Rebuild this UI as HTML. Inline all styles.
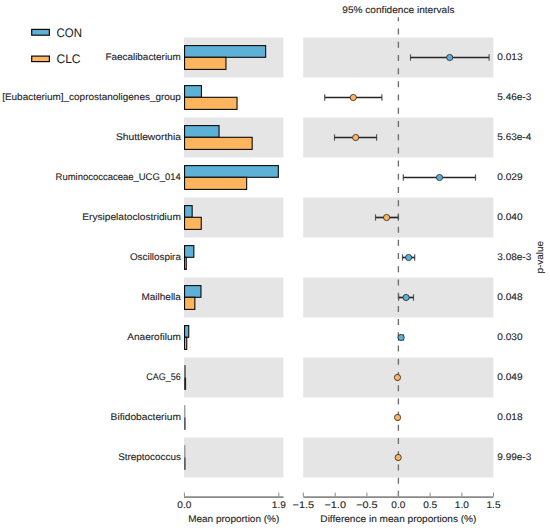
<!DOCTYPE html><html><head><meta charset="utf-8"><style>html,body{margin:0;padding:0;background:#fff;}svg{display:block;}text{font-family:"Liberation Sans",sans-serif;fill:#262626;stroke:#262626;stroke-width:0.12px;text-rendering:geometricPrecision;}</style></head><body>
<svg width="550" height="530" viewBox="0 0 550 530">
<rect x="0" y="0" width="550" height="530" fill="#fff"/>
<rect x="184.0" y="37.5" width="99.50" height="40.0" fill="#e5e5e5"/>
<rect x="303.2" y="37.5" width="190.20" height="40.0" fill="#e5e5e5"/>
<rect x="184.0" y="117.5" width="99.50" height="40.0" fill="#e5e5e5"/>
<rect x="303.2" y="117.5" width="190.20" height="40.0" fill="#e5e5e5"/>
<rect x="184.0" y="197.5" width="99.50" height="40.0" fill="#e5e5e5"/>
<rect x="303.2" y="197.5" width="190.20" height="40.0" fill="#e5e5e5"/>
<rect x="184.0" y="277.5" width="99.50" height="40.0" fill="#e5e5e5"/>
<rect x="303.2" y="277.5" width="190.20" height="40.0" fill="#e5e5e5"/>
<rect x="184.0" y="357.5" width="99.50" height="40.0" fill="#e5e5e5"/>
<rect x="303.2" y="357.5" width="190.20" height="40.0" fill="#e5e5e5"/>
<rect x="184.0" y="437.5" width="99.50" height="40.0" fill="#e5e5e5"/>
<rect x="303.2" y="437.5" width="190.20" height="40.0" fill="#e5e5e5"/>
<rect x="184.55" y="45.60" width="81.10" height="11.7" fill="#5db0d6" stroke="#0a0a0a" stroke-width="1.1"/>
<rect x="184.55" y="57.30" width="41.40" height="12.1" fill="#ffb55e" stroke="#0a0a0a" stroke-width="1.1"/>
<rect x="184.55" y="85.60" width="16.90" height="11.7" fill="#5db0d6" stroke="#0a0a0a" stroke-width="1.1"/>
<rect x="184.55" y="97.30" width="52.50" height="12.1" fill="#ffb55e" stroke="#0a0a0a" stroke-width="1.1"/>
<rect x="184.55" y="125.60" width="34.50" height="11.7" fill="#5db0d6" stroke="#0a0a0a" stroke-width="1.1"/>
<rect x="184.55" y="137.30" width="67.60" height="12.1" fill="#ffb55e" stroke="#0a0a0a" stroke-width="1.1"/>
<rect x="184.55" y="165.60" width="93.80" height="11.7" fill="#5db0d6" stroke="#0a0a0a" stroke-width="1.1"/>
<rect x="184.55" y="177.30" width="62.10" height="12.1" fill="#ffb55e" stroke="#0a0a0a" stroke-width="1.1"/>
<rect x="184.55" y="205.60" width="7.60" height="11.7" fill="#5db0d6" stroke="#0a0a0a" stroke-width="1.1"/>
<rect x="184.55" y="217.30" width="16.70" height="12.1" fill="#ffb55e" stroke="#0a0a0a" stroke-width="1.1"/>
<rect x="184.55" y="245.60" width="9.30" height="11.7" fill="#5db0d6" stroke="#0a0a0a" stroke-width="1.1"/>
<rect x="184.55" y="257.30" width="1.70" height="12.1" fill="#ffb55e" stroke="#0a0a0a" stroke-width="1.1"/>
<rect x="184.55" y="285.60" width="16.40" height="11.7" fill="#5db0d6" stroke="#0a0a0a" stroke-width="1.1"/>
<rect x="184.55" y="297.30" width="10.30" height="12.1" fill="#ffb55e" stroke="#0a0a0a" stroke-width="1.1"/>
<rect x="184.55" y="325.60" width="4.20" height="11.7" fill="#5db0d6" stroke="#0a0a0a" stroke-width="1.1"/>
<rect x="184.55" y="337.30" width="2.20" height="12.1" fill="#ffb55e" stroke="#0a0a0a" stroke-width="1.1"/>
<rect x="184.2" y="365.10" width="1.6" height="12.2" fill="#5a5a5a"/>
<rect x="184.2" y="377.30" width="1.9" height="12.6" fill="#1e1e1e"/>
<rect x="184.2" y="405.10" width="1.2" height="12.2" fill="#8a8a8a"/>
<rect x="184.2" y="417.30" width="1.4" height="12.6" fill="#3a3a3a"/>
<rect x="184.2" y="445.10" width="1.2" height="12.2" fill="#8a8a8a"/>
<rect x="184.2" y="457.30" width="1.4" height="12.6" fill="#404040"/>
<line x1="398.4" y1="496.85" x2="398.4" y2="17.3" stroke="#6e6e6e" stroke-width="1.35" stroke-dasharray="6 7.21"/>
<line x1="410.5" y1="54.3" x2="410.5" y2="60.7" stroke="#5c5c5c" stroke-width="1.2"/>
<line x1="489.1" y1="54.3" x2="489.1" y2="60.7" stroke="#5c5c5c" stroke-width="1.2"/>
<line x1="410.5" y1="57.5" x2="489.1" y2="57.5" stroke="#262626" stroke-width="1.65"/>
<circle cx="449.7" cy="57.5" r="3.1" fill="#5db0d6" stroke="#222" stroke-width="0.8"/>
<line x1="324.7" y1="94.3" x2="324.7" y2="100.7" stroke="#5c5c5c" stroke-width="1.2"/>
<line x1="381.9" y1="94.3" x2="381.9" y2="100.7" stroke="#5c5c5c" stroke-width="1.2"/>
<line x1="324.7" y1="97.5" x2="381.9" y2="97.5" stroke="#262626" stroke-width="1.65"/>
<circle cx="353.3" cy="97.5" r="3.1" fill="#ffb55e" stroke="#222" stroke-width="0.8"/>
<line x1="334.5" y1="134.3" x2="334.5" y2="140.7" stroke="#5c5c5c" stroke-width="1.2"/>
<line x1="376.6" y1="134.3" x2="376.6" y2="140.7" stroke="#5c5c5c" stroke-width="1.2"/>
<line x1="334.5" y1="137.5" x2="376.6" y2="137.5" stroke="#262626" stroke-width="1.65"/>
<circle cx="355.7" cy="137.5" r="3.1" fill="#ffb55e" stroke="#222" stroke-width="0.8"/>
<line x1="403.3" y1="174.3" x2="403.3" y2="180.7" stroke="#5c5c5c" stroke-width="1.2"/>
<line x1="475.5" y1="174.3" x2="475.5" y2="180.7" stroke="#5c5c5c" stroke-width="1.2"/>
<line x1="403.3" y1="177.5" x2="475.5" y2="177.5" stroke="#262626" stroke-width="1.65"/>
<circle cx="439.5" cy="177.5" r="3.1" fill="#5db0d6" stroke="#222" stroke-width="0.8"/>
<line x1="375.5" y1="214.3" x2="375.5" y2="220.7" stroke="#5c5c5c" stroke-width="1.2"/>
<line x1="398.4" y1="214.3" x2="398.4" y2="220.7" stroke="#5c5c5c" stroke-width="1.2"/>
<line x1="375.5" y1="217.5" x2="398.4" y2="217.5" stroke="#262626" stroke-width="1.65"/>
<circle cx="386.6" cy="217.5" r="3.1" fill="#ffb55e" stroke="#222" stroke-width="0.8"/>
<line x1="402.5" y1="254.3" x2="402.5" y2="260.7" stroke="#5c5c5c" stroke-width="1.2"/>
<line x1="414.7" y1="254.3" x2="414.7" y2="260.7" stroke="#5c5c5c" stroke-width="1.2"/>
<line x1="402.5" y1="257.5" x2="414.7" y2="257.5" stroke="#262626" stroke-width="1.65"/>
<circle cx="408.6" cy="257.5" r="3.1" fill="#5db0d6" stroke="#222" stroke-width="0.8"/>
<line x1="398.6" y1="294.3" x2="398.6" y2="300.7" stroke="#5c5c5c" stroke-width="1.2"/>
<line x1="413.5" y1="294.3" x2="413.5" y2="300.7" stroke="#5c5c5c" stroke-width="1.2"/>
<line x1="398.6" y1="297.5" x2="413.5" y2="297.5" stroke="#262626" stroke-width="1.65"/>
<circle cx="406.1" cy="297.5" r="3.1" fill="#5db0d6" stroke="#222" stroke-width="0.8"/>
<line x1="398.5" y1="334.3" x2="398.5" y2="340.7" stroke="#5c5c5c" stroke-width="1.2"/>
<line x1="403.5" y1="334.3" x2="403.5" y2="340.7" stroke="#5c5c5c" stroke-width="1.2"/>
<line x1="398.5" y1="337.5" x2="403.5" y2="337.5" stroke="#262626" stroke-width="1.65"/>
<circle cx="401.1" cy="337.5" r="3.1" fill="#5db0d6" stroke="#222" stroke-width="0.8"/>
<line x1="397.0" y1="374.3" x2="397.0" y2="380.7" stroke="#5c5c5c" stroke-width="1.2"/>
<line x1="398.0" y1="374.3" x2="398.0" y2="380.7" stroke="#5c5c5c" stroke-width="1.2"/>
<line x1="397.0" y1="377.5" x2="398.0" y2="377.5" stroke="#262626" stroke-width="1.65"/>
<circle cx="397.5" cy="377.5" r="3.1" fill="#ffb55e" stroke="#222" stroke-width="0.8"/>
<line x1="397.2" y1="414.3" x2="397.2" y2="420.7" stroke="#5c5c5c" stroke-width="1.2"/>
<line x1="398.0" y1="414.3" x2="398.0" y2="420.7" stroke="#5c5c5c" stroke-width="1.2"/>
<line x1="397.2" y1="417.5" x2="398.0" y2="417.5" stroke="#262626" stroke-width="1.65"/>
<circle cx="397.6" cy="417.5" r="3.1" fill="#ffb55e" stroke="#222" stroke-width="0.8"/>
<line x1="397.9" y1="454.3" x2="397.9" y2="460.7" stroke="#5c5c5c" stroke-width="1.2"/>
<line x1="398.5" y1="454.3" x2="398.5" y2="460.7" stroke="#5c5c5c" stroke-width="1.2"/>
<line x1="397.9" y1="457.5" x2="398.5" y2="457.5" stroke="#262626" stroke-width="1.65"/>
<circle cx="398.2" cy="457.5" r="3.1" fill="#ffb55e" stroke="#222" stroke-width="0.8"/>
<text x="180.90" y="60.20" text-anchor="end" font-size="9.60" textLength="75.50" lengthAdjust="spacingAndGlyphs" >Faecalibacterium</text>
<text x="497.30" y="60.20" text-anchor="start" font-size="9.60" textLength="25.34" lengthAdjust="spacingAndGlyphs" >0.013</text>
<text x="180.90" y="100.20" text-anchor="end" font-size="9.60" textLength="178.74" lengthAdjust="spacingAndGlyphs" >[Eubacterium]_coprostanoligenes_group</text>
<text x="497.30" y="100.20" text-anchor="start" font-size="9.60" textLength="33.98" lengthAdjust="spacingAndGlyphs" >5.46e-3</text>
<text x="180.90" y="140.20" text-anchor="end" font-size="9.60" textLength="64.93" lengthAdjust="spacingAndGlyphs" >Shuttleworthia</text>
<text x="497.30" y="140.20" text-anchor="start" font-size="9.60" textLength="33.98" lengthAdjust="spacingAndGlyphs" >5.63e-4</text>
<text x="180.90" y="180.20" text-anchor="end" font-size="9.60" textLength="125.34" lengthAdjust="spacingAndGlyphs" >Ruminococcaceae_UCG_014</text>
<text x="497.30" y="180.20" text-anchor="start" font-size="9.60" textLength="25.34" lengthAdjust="spacingAndGlyphs" >0.029</text>
<text x="180.90" y="220.20" text-anchor="end" font-size="9.60" textLength="98.59" lengthAdjust="spacingAndGlyphs" >Erysipelatoclostridium</text>
<text x="497.30" y="220.20" text-anchor="start" font-size="9.60" textLength="25.34" lengthAdjust="spacingAndGlyphs" >0.040</text>
<text x="180.90" y="260.20" text-anchor="end" font-size="9.60" textLength="50.98" lengthAdjust="spacingAndGlyphs" >Oscillospira</text>
<text x="497.30" y="260.20" text-anchor="start" font-size="9.60" textLength="33.98" lengthAdjust="spacingAndGlyphs" >3.08e-3</text>
<text x="180.90" y="300.20" text-anchor="end" font-size="9.60" textLength="39.37" lengthAdjust="spacingAndGlyphs" >Mailhella</text>
<text x="497.30" y="300.20" text-anchor="start" font-size="9.60" textLength="25.34" lengthAdjust="spacingAndGlyphs" >0.048</text>
<text x="180.90" y="340.20" text-anchor="end" font-size="9.60" textLength="53.65" lengthAdjust="spacingAndGlyphs" >Anaerofilum</text>
<text x="497.30" y="340.20" text-anchor="start" font-size="9.60" textLength="25.34" lengthAdjust="spacingAndGlyphs" >0.030</text>
<text x="180.90" y="380.20" text-anchor="end" font-size="9.60" textLength="34.62" lengthAdjust="spacingAndGlyphs" >CAG_56</text>
<text x="497.30" y="380.20" text-anchor="start" font-size="9.60" textLength="25.34" lengthAdjust="spacingAndGlyphs" >0.049</text>
<text x="180.90" y="420.20" text-anchor="end" font-size="9.60" textLength="70.29" lengthAdjust="spacingAndGlyphs" >Bifidobacterium</text>
<text x="497.30" y="420.20" text-anchor="start" font-size="9.60" textLength="25.34" lengthAdjust="spacingAndGlyphs" >0.018</text>
<text x="180.90" y="460.20" text-anchor="end" font-size="9.60" textLength="62.71" lengthAdjust="spacingAndGlyphs" >Streptococcus</text>
<text x="497.30" y="460.20" text-anchor="start" font-size="9.60" textLength="33.98" lengthAdjust="spacingAndGlyphs" >9.99e-3</text>
<text x="398.40" y="12.90" text-anchor="middle" font-size="9.60" textLength="112.10" lengthAdjust="spacingAndGlyphs" >95% confidence intervals</text>
<line x1="184.0" y1="497.1" x2="283.5" y2="497.1" stroke="#8a8a8a" stroke-width="1.6"/>
<line x1="303.2" y1="497.1" x2="493.4" y2="497.1" stroke="#8a8a8a" stroke-width="1.6"/>
<line x1="184.4" y1="492.6" x2="184.4" y2="496.5" stroke="#8a8a8a" stroke-width="1"/>
<line x1="278.8" y1="492.6" x2="278.8" y2="496.5" stroke="#8a8a8a" stroke-width="1"/>
<line x1="303.3" y1="492.6" x2="303.3" y2="496.5" stroke="#8a8a8a" stroke-width="1"/>
<line x1="335.2" y1="492.6" x2="335.2" y2="496.5" stroke="#8a8a8a" stroke-width="1"/>
<line x1="366.9" y1="492.6" x2="366.9" y2="496.5" stroke="#8a8a8a" stroke-width="1"/>
<line x1="398.4" y1="492.6" x2="398.4" y2="496.5" stroke="#8a8a8a" stroke-width="1"/>
<line x1="430.2" y1="492.6" x2="430.2" y2="496.5" stroke="#8a8a8a" stroke-width="1"/>
<line x1="461.9" y1="492.6" x2="461.9" y2="496.5" stroke="#8a8a8a" stroke-width="1"/>
<line x1="493.5" y1="492.6" x2="493.5" y2="496.5" stroke="#8a8a8a" stroke-width="1"/>
<text x="184.40" y="508.40" text-anchor="middle" font-size="9.60" textLength="14.07" lengthAdjust="spacingAndGlyphs" >0.0</text>
<text x="278.80" y="508.40" text-anchor="middle" font-size="9.60" textLength="14.07" lengthAdjust="spacingAndGlyphs" >1.9</text>
<text x="303.30" y="508.40" text-anchor="middle" font-size="9.60" textLength="21.49" lengthAdjust="spacingAndGlyphs" >−1.5</text>
<text x="335.20" y="508.40" text-anchor="middle" font-size="9.60" textLength="21.49" lengthAdjust="spacingAndGlyphs" >−1.0</text>
<text x="366.90" y="508.40" text-anchor="middle" font-size="9.60" textLength="21.49" lengthAdjust="spacingAndGlyphs" >−0.5</text>
<text x="398.40" y="508.40" text-anchor="middle" font-size="9.60" textLength="14.07" lengthAdjust="spacingAndGlyphs" >0.0</text>
<text x="430.20" y="508.40" text-anchor="middle" font-size="9.60" textLength="14.07" lengthAdjust="spacingAndGlyphs" >0.5</text>
<text x="461.90" y="508.40" text-anchor="middle" font-size="9.60" textLength="14.07" lengthAdjust="spacingAndGlyphs" >1.0</text>
<text x="493.50" y="508.40" text-anchor="middle" font-size="9.60" textLength="14.07" lengthAdjust="spacingAndGlyphs" >1.5</text>
<text x="233.75" y="522.30" text-anchor="middle" font-size="9.60" textLength="91.16" lengthAdjust="spacingAndGlyphs" >Mean proportion (%)</text>
<text x="398.40" y="522.30" text-anchor="middle" font-size="9.60" textLength="156.07" lengthAdjust="spacingAndGlyphs" >Difference in mean proportions (%)</text>
<text x="0.00" y="0.00" text-anchor="middle" font-size="9.60" textLength="32.75" lengthAdjust="spacingAndGlyphs" transform="translate(543.2,257.2) rotate(-90)">p-value</text>
<rect x="31.7" y="29.4" width="17.7" height="5.8" fill="#5db0d6" stroke="#0a0a0a" stroke-width="1.2"/>
<rect x="31.7" y="56.1" width="17.7" height="5.5" fill="#ffb55e" stroke="#0a0a0a" stroke-width="1.2"/>
<text x="56.5" y="36.9" font-size="12.4" textLength="25.4" lengthAdjust="spacingAndGlyphs" style="fill:#1a1a1a;stroke-width:0.05px">CON</text>
<text x="56.5" y="62.7" font-size="12.4" textLength="24.0" lengthAdjust="spacingAndGlyphs" style="fill:#1a1a1a;stroke-width:0.05px">CLC</text>
</svg></body></html>
